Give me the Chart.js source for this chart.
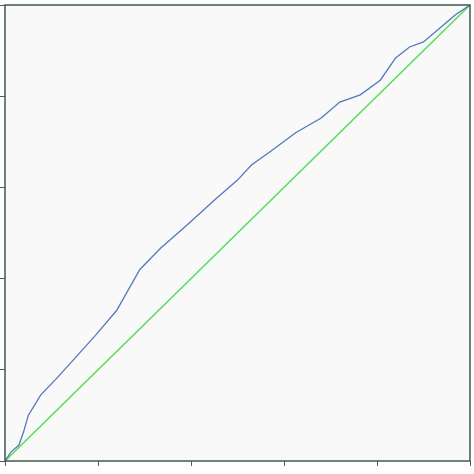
<!DOCTYPE html>
<html><head>
<script src="https://cdn.jsdelivr.net/npm/chart.js@4"></script>
<style>
html,body{margin:0;padding:0;background:#fff;}
#wrap{width:474px;height:474px;}
</style>
</head><body>
<div id="wrap"><canvas id="c" width="474" height="474"></canvas></div>
<script>
// curve values
const curveX = [0, .013, .03, .04, .05, .077, .11, .15, .195, .24, .29, .335, .38, .42, .45, .5, .53, .57, .625, .68, .72, .764, .807, .84, .87, .9, .936, .968, 1];
const curveY = [0, .02, .035, .064, .10, .145, .18, .225, .276, .33, .42, .467, .507, .544, .572, .616, .649, .678, .72, .752, .787, .803, .835, .884, .908, .919, .95, .978, 1];
const diagX = [0, 1];
const diagY = [0, 1];
const tickVals = [0, 0.2, 0.4, 0.6, 0.8, 1];

const bgPlugin = {
  id: 'bg',
  beforeDraw(chart) {
    const {ctx, chartArea: a} = chart;
    ctx.save();
    ctx.fillStyle = '#f9f9fa';
    ctx.fillRect(a.left, a.top, a.width, a.height);
    ctx.restore();
  },
  afterDraw(chart) {
    const {ctx, chartArea: a} = chart;
    ctx.save();
    ctx.strokeStyle = '#3d5a45';
    ctx.lineWidth = 1.5;
    ctx.strokeRect(a.left, a.top, a.width, a.height);
    ctx.restore();
  }
};

const axis = {
  type: 'linear', min: 0, max: 1,
  afterBuildTicks: s => { s.ticks = tickVals.map(v => ({value: v})); },
  ticks: {display: false},
  grid: {drawOnChartArea: false, tickLength: 5, color: '#556'},
  border: {display: false}
};

new Chart(document.getElementById('c'), {
  type: 'line',
  data: {
    datasets: [
      {data: curveX.map((x, i) => ({x, y: curveY[i]})), borderColor: '#5577bb', borderWidth: 1.3, pointRadius: 0, tension: 0},
      {data: diagX.map((x, i) => ({x, y: diagY[i]})), borderColor: '#55dd55', borderWidth: 1.5, pointRadius: 0}
    ]
  },
  options: {
    responsive: false,
    animation: false,
    layout: {padding: {left: 0, right: 4, top: 5, bottom: 8}},
    plugins: {legend: {display: false}, tooltip: {enabled: false}},
    scales: {x: {...axis}, y: {...axis}}
  },
  plugins: [bgPlugin]
});
</script>
</body></html>
